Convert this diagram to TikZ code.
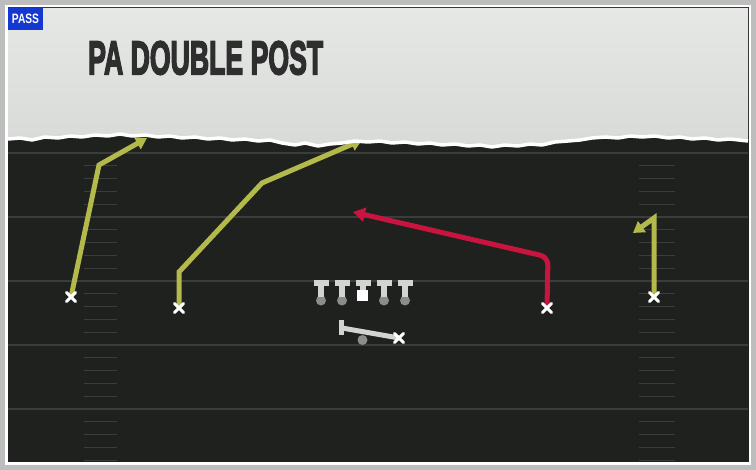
\documentclass[tikz,border=0pt]{standalone}
\usepackage{fontspec}
\setmainfont{Liberation Sans}
\newfontfamily\titlefont[BoldFeatures={FakeBold=4}]{Liberation Sans}
\usetikzlibrary{arrows.meta}
\definecolor{framegray}{HTML}{BDBDBD}
\definecolor{field}{HTML}{1F211F}
\definecolor{yardline}{HTML}{3A3D3A}
\definecolor{hashc}{HTML}{3A3D3A}
\definecolor{paper}{HTML}{DFE1DF}
\definecolor{papertop}{HTML}{E6E8E6}
\definecolor{paperbot}{HTML}{D8DAD8}
\definecolor{olive}{HTML}{B4B94C}
\definecolor{routered}{HTML}{C8143F}
\definecolor{lineT}{HTML}{D2D3D2}
\definecolor{lineO}{HTML}{8C8C8C}
\definecolor{passblue}{HTML}{1438D0}
\definecolor{titlec}{HTML}{2E2E2E}
\tikzset{
  route/.style={line width=5pt, draw=olive, line join=miter},
  redroute/.style={line width=5pt, draw=routered, rounded corners=8pt},
  xline/.style={draw=white, line width=3pt, line cap=round},
  xpl/.pic={\draw[xline] (-4.5,-4.5)--(4.5,4.5) (-4.5,4.5)--(4.5,-4.5);},
  linebar/.style={draw=lineT, line width=6pt},
  hashmark/.style={draw=hashc, line width=1.2pt},
}
\begin{document}
\begin{tikzpicture}[x=1pt,y=-1pt]
\useasboundingbox (0,0) rectangle (756,470);
% frame
\fill[framegray] (0,0) rectangle (756,470);
\fill[white] (5,5) rectangle (751,465);
\fill[field] (7.5,7.5) rectangle (748.5,462.5);
% yard lines
\foreach \yy in {153,217,281,345,409}
  \draw[yardline, line width=1.5pt] (8,\yy) -- (748,\yy);
% hash marks
\foreach \k in {1,...,24}{
  \pgfmathsetmacro{\yy}{153+12.8*\k}
  \draw[hashmark] (84,\yy) -- (117,\yy);
  \draw[hashmark] (639,\yy) -- (675,\yy);
}
% players (positions)
\coordinate (wrL) at (71,297);
\coordinate (slot) at (179,308);
\coordinate (wrR2) at (547,308);
\coordinate (wrR) at (654,297);
\coordinate (lbend1) at (99,165);
\coordinate (lend1) at (147,138);
\coordinate (sbend1) at (179,272);
\coordinate (sbend2) at (262,183);
\coordinate (send) at (362,140);
\coordinate (rbend) at (548,257);
\coordinate (rend) at (353,212);
\coordinate (hbend) at (654,218);
\coordinate (hend) at (633,233);
% routes
\draw[route, -{Triangle[length=11pt,width=13pt]}] (wrL) -- (lbend1) -- (lend1);
\draw[route, -{Triangle[length=11pt,width=13pt]}] (slot) -- (sbend1) -- (sbend2) -- (send);
\draw[redroute, -{Triangle[length=12pt,width=14pt]}] (wrR2) -- (rbend) -- (rend);
\draw[route, -{Triangle[length=11pt,width=13pt]}] (wrR) -- (hbend) -- (hend);
% X marks
\pic at (wrL) {xpl};
\pic at (slot) {xpl};
\pic at (wrR2) {xpl};
\pic at (wrR) {xpl};
% offensive line
\foreach \xx/\nm in {321/lt,342/lg,384/rg,405/rt}{
  \fill[lineO] (\xx,300.5) circle (5);
  \draw[linebar] (\xx,286) -- (\xx,297);
  \draw[lineT, line width=6pt] (\xx-7.5,283.5) -- (\xx+7.5,283.5);
  \coordinate (\nm) at (\xx,300);
}
\draw[linebar] (363,286) -- (363,291);
\draw[lineT, line width=6pt] (355.5,283.5) -- (370.5,283.5);
\node[fill=white, minimum size=11pt, inner sep=0pt] (center) at (362.5,295.5) {};
% back
\coordinate (rb) at (399,338);
\coordinate (rbend2) at (342,328);
\fill[lineO] (362.5,340) circle (5);
\draw[linebar, line width=5pt] (rb) -- (rbend2);
\draw[linebar, line width=5pt] (341,320.5) -- (341,335);
\pic at (rb) {xpl};
% paper
\shade[top color=papertop, bottom color=paperbot] (8,8) -- (748,8) -- (748,141) -- (730,139) -- (718,140) -- (705,138) -- (692,139) -- (680,137) -- (668,138) -- (655,136) -- (642,137) -- (630,136) -- (618,138) -- (605,137) -- (592,138) -- (580,140) -- (568,141) -- (555,142) -- (542,145) -- (530,144) -- (518,146) -- (505,145) -- (492,147) -- (480,145) -- (468,146) -- (455,144) -- (442,145) -- (430,143) -- (418,144) -- (405,142) -- (392,143) -- (380,141) -- (368,142) -- (355,141) -- (342,143) -- (330,144) -- (318,146) -- (305,143) -- (295,145) -- (282,143) -- (270,140) -- (258,141) -- (245,139) -- (232,140) -- (220,138) -- (208,139) -- (195,137) -- (182,138) -- (170,136) -- (158,137) -- (145,135) -- (132,136) -- (120,134) -- (108,136) -- (95,135) -- (82,137) -- (70,136) -- (58,138) -- (45,137) -- (32,140) -- (20,138) -- (8,139) -- cycle;
\draw[white, line width=3.5pt, line join=round] (8,139) -- (20,138) -- (32,140) -- (45,137) -- (58,138) -- (70,136) -- (82,137) -- (95,135) -- (108,136) -- (120,134) -- (132,136) -- (145,135) -- (158,137) -- (170,136) -- (182,138) -- (195,137) -- (208,139) -- (220,138) -- (232,140) -- (245,139) -- (258,141) -- (270,140) -- (282,143) -- (295,145) -- (305,143) -- (318,146) -- (330,144) -- (342,143) -- (355,141) -- (368,142) -- (380,141) -- (392,143) -- (405,142) -- (418,144) -- (430,143) -- (442,145) -- (455,144) -- (468,146) -- (480,145) -- (492,147) -- (505,145) -- (518,146) -- (530,144) -- (542,145) -- (555,142) -- (568,141) -- (580,140) -- (592,138) -- (605,137) -- (618,138) -- (630,136) -- (642,137) -- (655,136) -- (668,138) -- (680,137) -- (692,139) -- (705,138) -- (718,140) -- (730,139) -- (748,141);
% title
\node[anchor=north west, inner sep=0pt, text=titlec] (title) at (88,41)
  {\resizebox{235pt}{33pt}{\titlefont\bfseries PA DOUBLE POST}};
% pass badge
\fill[passblue] (8,8) rectangle (43,30);
\node[inner sep=0pt, text=white] (pass) at (25.5,19)
  {\resizebox{27pt}{9.5pt}{\bfseries PASS}};
\end{tikzpicture}
\end{document}
